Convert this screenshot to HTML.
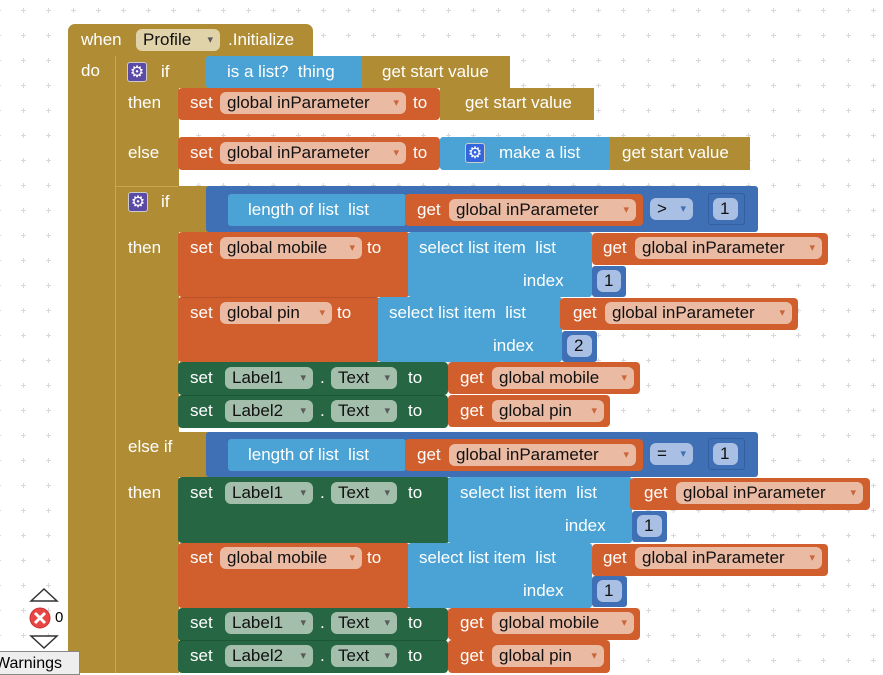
<!DOCTYPE html>
<html><head><meta charset="utf-8"><style>
body{margin:0;width:883px;height:673px;overflow:hidden;position:relative;font-family:"Liberation Sans",Arial,sans-serif;
background-color:#fff;
background-image:url("data:image/svg+xml,%3Csvg xmlns='http://www.w3.org/2000/svg' width='25' height='25'%3E%3Cpath d='M12.5 10v5M10 12.5h5' stroke='%23d8d8d8' stroke-width='1'/%3E%3C/svg%3E");
background-position:11px -2px;}
div{position:absolute;box-sizing:border-box}
.g{background:#b08d35}.o{background:#d05f2d;border-radius:4px}.lb{background:#4aa3d4;border-radius:3px}.db{background:#3f6fb4;border-radius:3px}.gr{background:#266643;border-radius:4px}
.t{color:#fff;font-size:17px;line-height:22px;white-space:nowrap}
.p{height:22px;border-radius:6px;color:#111;font-size:17px;line-height:22px;padding-left:7px;white-space:nowrap}
.po{background:#ebbaa3}.pg{background:#a3bfac}.pt{background:#e1d3a9}.pb{background:#a9bfe3}
.p i{position:absolute;right:7px;top:0;font-style:normal;font-size:11px}
.po i{color:#c9663a}.pg i,.pt i{color:#5a5a5a}.pb i{color:#3f6fb4}
.gear{width:20px;height:20px;border-radius:3px;background:#5b4ba6;color:#fff;font-size:16px;line-height:20px;text-align:center;border:1px solid #ccc}
</style></head><body>
<div class="g" style="left:68px;top:24px;width:245px;height:33px;border-radius:7px 7px 0 0"></div>
<div class="g" style="left:68px;top:56px;width:48px;height:617px;border-radius:0"></div>
<div class="t" style="left:81px;top:29px">when</div>
<div class="p pt" style="left:136px;top:29px;width:84px">Profile<i>▾</i></div>
<div class="t" style="left:228px;top:29px">.Initialize</div>
<div class="t" style="left:81px;top:60px">do</div>
<div class="g" style="left:115px;top:56px;width:64px;height:131px;border-left:1px solid #c9a750"></div>
<div class="g" style="left:178px;top:56px;width:32px;height:32px"></div>
<div class="gear" style="left:127px;top:62px">⚙</div>
<div class="t" style="left:161px;top:61px">if</div>
<div class="lb" style="left:206px;top:56px;width:164px;height:32px"></div>
<div class="t" style="left:227px;top:61px">is a list?&nbsp; thing</div>
<div class="g" style="left:362px;top:56px;width:148px;height:32px"></div>
<div class="t" style="left:382px;top:61px">get start value</div>
<div class="t" style="left:128px;top:92px">then</div>
<div class="o" style="left:178px;top:88px;width:262px;height:32px"></div>
<div class="t" style="left:190px;top:92px">set</div>
<div class="p po" style="left:220px;top:92px;width:186px">global inParameter<i>▾</i></div>
<div class="t" style="left:413px;top:92px">to</div>
<div class="g" style="left:440px;top:88px;width:154px;height:32px"></div>
<div class="t" style="left:465px;top:92px">get start value</div>
<div class="t" style="left:128px;top:142px">else</div>
<div class="o" style="left:178px;top:137px;width:262px;height:33px"></div>
<div class="t" style="left:190px;top:142px">set</div>
<div class="p po" style="left:220px;top:142px;width:186px">global inParameter<i>▾</i></div>
<div class="t" style="left:413px;top:142px">to</div>
<div class="lb" style="left:440px;top:137px;width:172px;height:33px"></div>
<div class="gear" style="left:465px;top:143px;background:#3366dd">⚙</div>
<div class="t" style="left:499px;top:142px">make a list</div>
<div class="g" style="left:610px;top:137px;width:140px;height:33px"></div>
<div class="t" style="left:622px;top:142px">get start value</div>
<div class="g" style="left:115px;top:186px;width:64px;height:487px;border-left:1px solid #c9a750;border-top:1px solid #c9a750"></div>
<div class="g" style="left:178px;top:186px;width:32px;height:46px"></div>
<div class="g" style="left:178px;top:432px;width:32px;height:45px"></div>
<div class="gear" style="left:128px;top:192px">⚙</div>
<div class="t" style="left:161px;top:191px">if</div>
<div class="db" style="left:206px;top:186px;width:552px;height:46px"></div>
<div class="lb" style="left:228px;top:194px;width:178px;height:32px"></div>
<div class="t" style="left:248px;top:199px">length of list&nbsp; list</div>
<div class="o" style="left:405px;top:194px;width:238px;height:32px"></div>
<div class="t" style="left:417px;top:199px">get</div>
<div class="p po" style="left:449px;top:199px;width:187px">global inParameter<i>▾</i></div>
<div class="p pb" style="left:650px;top:198px;width:43px">&gt;<i>▾</i></div>
<div class="db" style="left:708px;top:193px;width:37px;height:32px;border:1px solid #345e9e"></div>
<div class="p pb" style="left:713px;top:198px;width:25px">1</div>
<div class="t" style="left:128px;top:237px">then</div>
<div class="o" style="left:178px;top:232px;width:232px;height:65px"></div>
<div class="t" style="left:190px;top:237px">set</div>
<div class="p po" style="left:220px;top:237px;width:142px">global mobile<i>▾</i></div>
<div class="t" style="left:367px;top:237px">to</div>
<div class="lb" style="left:408px;top:232px;width:184px;height:65px"></div>
<div class="t" style="left:419px;top:237px">select list item&nbsp; list</div>
<div class="t" style="left:523px;top:270px">index</div>
<div class="o" style="left:592px;top:233px;width:236px;height:32px"></div>
<div class="t" style="left:603px;top:237px">get</div>
<div class="p po" style="left:635px;top:237px;width:187px">global inParameter<i>▾</i></div>
<div class="db" style="left:592px;top:266px;width:34px;height:31px"></div>
<div class="p pb" style="left:597px;top:270px;width:24px">1</div>
<div class="o" style="left:178px;top:297px;width:202px;height:65px;border-top:1px solid #b8512a"></div>
<div class="t" style="left:190px;top:302px">set</div>
<div class="p po" style="left:220px;top:302px;width:112px">global pin<i>▾</i></div>
<div class="t" style="left:337px;top:302px">to</div>
<div class="lb" style="left:378px;top:297px;width:184px;height:65px"></div>
<div class="t" style="left:389px;top:302px">select list item&nbsp; list</div>
<div class="t" style="left:493px;top:335px">index</div>
<div class="o" style="left:560px;top:298px;width:238px;height:32px"></div>
<div class="t" style="left:573px;top:302px">get</div>
<div class="p po" style="left:605px;top:302px;width:187px">global inParameter<i>▾</i></div>
<div class="db" style="left:562px;top:331px;width:35px;height:31px"></div>
<div class="p pb" style="left:567px;top:335px;width:25px">2</div>
<div class="gr" style="left:178px;top:362px;width:270px;height:33px"></div>
<div class="t" style="left:190px;top:367px">set</div>
<div class="p pg" style="left:225px;top:367px;width:88px">Label1<i>▾</i></div>
<div class="t" style="left:320px;top:367px">.</div>
<div class="p pg" style="left:331px;top:367px;width:66px">Text<i>▾</i></div>
<div class="t" style="left:408px;top:367px">to</div>
<div class="o" style="left:448px;top:362px;width:192px;height:32px"></div>
<div class="t" style="left:460px;top:367px">get</div>
<div class="p po" style="left:492px;top:367px;width:142px">global mobile<i>▾</i></div>
<div class="gr" style="left:178px;top:395px;width:270px;height:33px;border-top:1px solid #1d5636"></div>
<div class="t" style="left:190px;top:400px">set</div>
<div class="p pg" style="left:225px;top:400px;width:88px">Label2<i>▾</i></div>
<div class="t" style="left:320px;top:400px">.</div>
<div class="p pg" style="left:331px;top:400px;width:66px">Text<i>▾</i></div>
<div class="t" style="left:408px;top:400px">to</div>
<div class="o" style="left:448px;top:395px;width:162px;height:32px"></div>
<div class="t" style="left:460px;top:400px">get</div>
<div class="p po" style="left:492px;top:400px;width:112px">global pin<i>▾</i></div>
<div class="t" style="left:128px;top:436px">else if</div>
<div class="db" style="left:206px;top:432px;width:552px;height:45px"></div>
<div class="lb" style="left:228px;top:439px;width:178px;height:32px"></div>
<div class="t" style="left:248px;top:444px">length of list&nbsp; list</div>
<div class="o" style="left:405px;top:439px;width:238px;height:32px"></div>
<div class="t" style="left:417px;top:444px">get</div>
<div class="p po" style="left:449px;top:444px;width:187px">global inParameter<i>▾</i></div>
<div class="p pb" style="left:650px;top:443px;width:43px">=<i>▾</i></div>
<div class="db" style="left:708px;top:438px;width:37px;height:32px;border:1px solid #345e9e"></div>
<div class="p pb" style="left:713px;top:443px;width:25px">1</div>
<div class="t" style="left:128px;top:482px">then</div>
<div class="gr" style="left:178px;top:477px;width:272px;height:66px"></div>
<div class="t" style="left:190px;top:482px">set</div>
<div class="p pg" style="left:225px;top:482px;width:88px">Label1<i>▾</i></div>
<div class="t" style="left:320px;top:482px">.</div>
<div class="p pg" style="left:331px;top:482px;width:66px">Text<i>▾</i></div>
<div class="t" style="left:408px;top:482px">to</div>
<div class="lb" style="left:448px;top:477px;width:184px;height:66px"></div>
<div class="t" style="left:460px;top:482px">select list item&nbsp; list</div>
<div class="t" style="left:565px;top:515px">index</div>
<div class="o" style="left:630px;top:478px;width:240px;height:32px"></div>
<div class="t" style="left:644px;top:482px">get</div>
<div class="p po" style="left:676px;top:482px;width:187px">global inParameter<i>▾</i></div>
<div class="db" style="left:632px;top:511px;width:35px;height:31px"></div>
<div class="p pb" style="left:637px;top:515px;width:25px">1</div>
<div class="o" style="left:178px;top:543px;width:232px;height:65px"></div>
<div class="t" style="left:190px;top:547px">set</div>
<div class="p po" style="left:220px;top:547px;width:142px">global mobile<i>▾</i></div>
<div class="t" style="left:367px;top:547px">to</div>
<div class="lb" style="left:408px;top:543px;width:184px;height:65px"></div>
<div class="t" style="left:419px;top:547px">select list item&nbsp; list</div>
<div class="t" style="left:523px;top:580px">index</div>
<div class="o" style="left:592px;top:544px;width:236px;height:32px"></div>
<div class="t" style="left:603px;top:547px">get</div>
<div class="p po" style="left:635px;top:547px;width:187px">global inParameter<i>▾</i></div>
<div class="db" style="left:592px;top:576px;width:35px;height:31px"></div>
<div class="p pb" style="left:597px;top:580px;width:25px">1</div>
<div class="gr" style="left:178px;top:608px;width:270px;height:33px"></div>
<div class="t" style="left:190px;top:612px">set</div>
<div class="p pg" style="left:225px;top:612px;width:88px">Label1<i>▾</i></div>
<div class="t" style="left:320px;top:612px">.</div>
<div class="p pg" style="left:331px;top:612px;width:66px">Text<i>▾</i></div>
<div class="t" style="left:408px;top:612px">to</div>
<div class="o" style="left:448px;top:608px;width:192px;height:32px"></div>
<div class="t" style="left:460px;top:612px">get</div>
<div class="p po" style="left:492px;top:612px;width:142px">global mobile<i>▾</i></div>
<div class="gr" style="left:178px;top:640px;width:270px;height:33px;border-top:1px solid #1d5636"></div>
<div class="t" style="left:190px;top:645px">set</div>
<div class="p pg" style="left:225px;top:645px;width:88px">Label2<i>▾</i></div>
<div class="t" style="left:320px;top:645px">.</div>
<div class="p pg" style="left:331px;top:645px;width:66px">Text<i>▾</i></div>
<div class="t" style="left:408px;top:645px">to</div>
<div class="o" style="left:448px;top:640px;width:162px;height:33px"></div>
<div class="t" style="left:460px;top:645px">get</div>
<div class="p po" style="left:492px;top:645px;width:112px">global pin<i>▾</i></div>
<svg style="position:absolute;left:28px;top:586px" width="34" height="66">
<path d="M3 15 L16 3 L29 15 Z" fill="#fff" stroke="#333" stroke-width="1.5"/>
<circle cx="12" cy="32" r="10" fill="#e84545" stroke="#c33"/>
<path d="M7 27 L17 37 M17 27 L7 37" stroke="#fff" stroke-width="3"/>
<path d="M3 50 L29 50 L16 62 Z" fill="#fff" stroke="#333" stroke-width="1.5"/>
</svg>
<div style="left:55px;top:609px;font-size:15px;color:#000">0</div>
<div style="left:-2px;top:651px;width:82px;height:24px;background:#eee;border:1px solid #888;font-size:16px;line-height:24px;padding-left:0;overflow:hidden"><span style="margin-left:-4px">Warnings</span></div>
</body></html>
